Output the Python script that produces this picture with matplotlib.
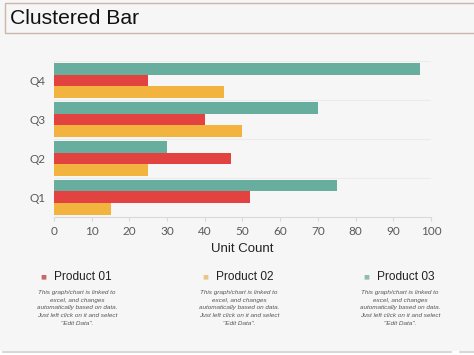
#!/usr/bin/env python3
"""
Clustered horizontal bar chart: unit count per quarter for three products.
"""

import numpy as np
import matplotlib.pyplot as plt
from matplotlib.patches import Rectangle

# Data
quarters = ["Q1", "Q2", "Q3", "Q4"]
product_names = ["Product 01", "Product 02", "Product 03"]
product_01 = [52, 47, 40, 25]
product_02 = [15, 25, 50, 45]
product_03 = [75, 30, 70, 97]
x_ticks = [0, 10, 20, 30, 40, 50, 60, 70, 80, 90, 100]
note_text = ("This graph/chart is linked to\nexcel, and changes\n"
             "automatically based on data.\nJust left click on it and select\n"
             "\"Edit Data\".")

# Styling
COLORS = {"Product 01": "#e24341", "Product 02": "#f2b43e", "Product 03": "#68ae9f"}
MARKER_COLORS = {"Product 01": "#c9666b", "Product 02": "#eec38a", "Product 03": "#8fbcb0"}
BG = "#f6f6f6"
TICK_COLOR = "#5a5a5a"

W, H = 474, 355
fig = plt.figure(figsize=(W / 100, H / 100), dpi=100)
fig.patch.set_facecolor("white")

# light gray page with a soft bottom edge
fig.patches.append(Rectangle((0, 1 - 351 / H), 1, 351 / H, transform=fig.transFigure,
                             facecolor=BG, edgecolor="none", zorder=-2))
fig.lines.append(plt.Line2D([3 / W, 451 / W], [1 - 351.5 / H] * 2, transform=fig.transFigure,
                            color="#d0d0d0", linewidth=1.2, zorder=-1))
fig.lines.append(plt.Line2D([460 / W, 1], [1 - 351.5 / H] * 2, transform=fig.transFigure,
                            color="#d0d0d0", linewidth=1.2, zorder=-1))

# title box
fig.patches.append(Rectangle((5 / W, 1 - 33 / H), 1.0, 30 / H, transform=fig.transFigure,
                             facecolor=BG, edgecolor="#cdb5ae", linewidth=1.0, zorder=-1))
fig.text(10 / W, 1 - 18 / H, "Clustered Bar", fontsize=15.2, family="Liberation Sans",
         color="#111111", va="center", ha="left")

# Chart axes
ax = fig.add_axes([54 / W, 1 - 216.7 / H, (431 - 54) / W, (216.7 - 61.2) / H])
ax.set_zorder(2)
ax.set_facecolor(BG)

y = np.arange(len(quarters))
h = 0.297
ax.barh(y - h, product_02, height=h, color=COLORS["Product 02"], zorder=3)
ax.barh(y, product_01, height=h, color=COLORS["Product 01"], zorder=3)
ax.barh(y + h, product_03, height=h, color=COLORS["Product 03"], zorder=3)

ax.set_xlim(0, 100)
ax.set_ylim(-0.5, 3.5)
ax.set_xticks(x_ticks)
ax.set_xticklabels([str(t) for t in x_ticks], family="Lato", fontsize=8.5, color=TICK_COLOR)
ax.set_yticks(y)
ax.set_yticklabels(quarters, family="Lato", fontsize=8.5, color=TICK_COLOR)
ax.tick_params(axis="x", length=3, color="#d9d9d9", pad=4)
ax.tick_params(axis="y", length=0, pad=6)

# faint separators between quarters
for b in np.arange(-0.5, 4.0, 1.0)[1:]:
    ax.axhline(b, color="#ebebeb", linewidth=0.8, zorder=1)

for side in ["top", "right", "left"]:
    ax.spines[side].set_visible(False)
ax.spines["bottom"].set_color("#d9d9d9")

ax.set_xlabel("Unit Count", family="Liberation Sans", fontsize=9.5, color="#222222", labelpad=4)

# Legend with notes
legend_x = [43, 205, 366]
for name, mx in zip(product_names, legend_x):
    fig.text(mx / W, 1 - 277 / H, "\u25a0", fontsize=4.5, color=MARKER_COLORS[name],
             ha="center", va="center")
    fig.text((mx + 11) / W, 1 - 277 / H, name, fontsize=8.6, family="Liberation Sans",
             color="#222222", ha="left", va="center")
    fig.text((mx + 34) / W, 1 - 308 / H, note_text, fontsize=4.6, family="Liberation Sans",
             style="italic", color="#555555", ha="center", va="center", linespacing=1.65)

fig.savefig("out.png", dpi=100, facecolor=fig.get_facecolor())
